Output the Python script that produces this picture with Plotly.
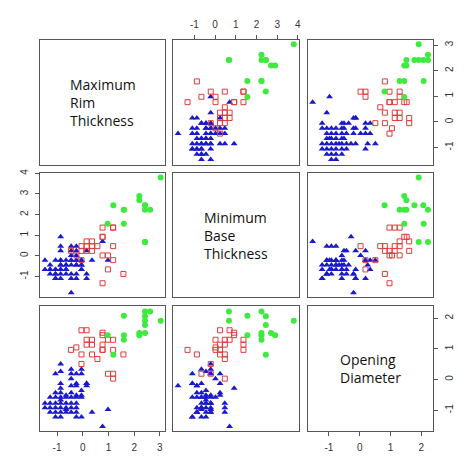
import plotly.graph_objects as go

# ---------------- data (standardised measurements) ----------------
var_names = ["Maximum<br>Rim<br>Thickness", "Minimum<br>Base<br>Thickness", "Opening<br>Diameter"]

# group 1 (blue triangles)
blue_mrt = [0.98, 0.77, 0.36, 0.15, 0.15, 0.15,
            -0.05, -0.05, -0.05, -0.05, -0.05, -0.05,
            -0.25, -0.25, -0.25, -0.25, -0.25, -0.25, -0.25, -0.25, -0.25,
            -0.45, -0.45, -0.45, -0.45, -0.45, -0.45, -0.45, -0.45, -0.45,
            -0.65, -0.65, -0.65, -0.65, -0.65, -0.65,
            -0.86, -0.86, -0.86, -0.86, -0.86, -0.86, -0.86, -0.86, -0.86, -0.86, -0.86,
            -1.06, -1.06, -1.06, -1.06, -1.06, -1.06, -1.06,
            -1.27, -1.27, -1.27, -1.27,
            -1.47, -1.47]
blue_mbt = [-0.21, 0.70, -0.21, -1.10, -0.88, 0.24,
            -0.66, -0.44, -0.21, -0.44, -0.21, -0.66,
            -1.10, -0.88, -0.44, -0.21, 0.02, 0.24, 0.47, -0.44, -0.21,
            -1.10, -0.88, -0.44, -0.21, 0.02, -1.79, 0.24, 0.47, -0.21,
            -0.88, -0.66, -0.44, -0.21, -0.66, -0.44,
            -1.10, 0.47, -0.88, -0.66, -0.44, -0.21, 0.24, 0.92, -0.66, -0.44, -0.21,
            -1.10, -0.88, -0.66, -0.21, -0.88, -0.66, -1.10,
            -0.88, -0.66, -0.44, -0.66,
            -0.66, -0.21]
blue_od = [-0.98, -1.53, -1.07, -0.13, -0.20, -0.13,
           -1.22, -0.58, -0.51, -0.36, 0.19, 0.34,
           -0.13, -0.20, -1.22, -1.07, -0.58, -0.51, -0.92, -0.77, 0.19,
           -0.58, -0.43, -1.07, -0.92, 0.03, -0.20, 0.19, -0.77, 0.34,
           -1.07, -0.98, -0.92, -0.77, -0.58, -0.51,
           -1.22, -1.07, -0.92, -0.77, -0.67, -0.58, -0.43, -0.28, -0.13, 0.26, 0.51,
           -1.22, -1.07, -0.92, -0.77, -0.58, -0.43, 0.19,
           -1.07, -0.92, -0.77, -0.58,
           -0.92, -0.77]

# group 2 (red open squares)
red_mrt = [1.58, 1.18, 1.18, 1.18, 1.18, 0.98, 0.98, 0.77, 0.77, 0.77, 0.77, 0.77,
           0.57, 0.36, 0.36, 0.36, 0.15, 0.15, 0.15, -0.05, -0.05, -0.05, -0.25, -0.46]
red_mbt = [-0.88, 0.47, -0.21, 1.37, 1.37, -0.66, 0.02, -1.33, 1.37, 0.92, 0.92, 0.02,
           0.47, 0.24, 0.47, 0.70, 0.24, 0.47, 0.70, -0.21, 0.47, 0.24, 0.02, 0.24]
red_od = [0.82, 0.03, 0.19, 0.97, 1.30, 0.19, 1.30, 0.97, 1.14, 1.45, 1.53, 0.97,
          0.67, 0.82, 1.14, 1.30, 1.14, 1.30, 1.61, 0.51, 0.82, 1.61, 1.05, 0.97]

# group 3 (green filled circles)
green_mrt = [3.03, 2.62, 2.42, 2.42, 2.42, 2.42, 2.42, 2.20, 2.20, 1.60, 1.60, 1.60, 1.19, 0.97]
green_mbt = [3.80, 2.24, 0.67, 2.45, 0.67, 2.45, 2.24, 2.70, 2.90, 2.24, 2.24, 1.56, 2.45, 1.56]
green_od = [1.92, 2.22, 2.22, 2.07, 1.92, 1.78, 1.52, 1.52, 1.45, 1.30, 1.45, 2.08, 0.81, 1.45]

tick_mrt = [-1, 0, 1, 2, 3]
tick_mbt = [-1, 0, 1, 2, 3, 4]
tick_od = [-1, 0, 1, 2]

# ---------------- layout helpers ----------------
W, H = 474, 466
col_px = [(40, 166), (174, 300), (309, 435)]
row_px = [(36, 162), (170, 296), (305, 431)]
ranges = [[-1.67, 3.21], [-2.02, 4.04], [-1.69, 2.39]]
ticks = [tick_mrt, tick_mbt, tick_od]

groups = [
    ([blue_mrt, blue_mbt, blue_od],
     dict(symbol="triangle-up", size=6, color="#1a1acc", line=dict(width=0))),
    ([red_mrt, red_mbt, red_od],
     dict(symbol="square-open", size=5, color="#e03c3c", line=dict(width=1, color="#e03c3c"))),
    ([green_mrt, green_mbt, green_od],
     dict(symbol="circle", size=6, color="#3dea3d", line=dict(width=0))),
]

fig = go.Figure()
LINE = "#555555"
TICKFONT = dict(family="Liberation Sans, Arial, sans-serif", size=10, color="#333333")

for r in range(3):
    for c in range(3):
        k = r * 3 + c + 1
        xa = "x" if k == 1 else f"x{k}"
        ya = "y" if k == 1 else f"y{k}"
        if r != c:
            for data, mk in groups:
                fig.add_trace(go.Scatter(x=data[c], y=data[r], mode="markers",
                                         marker=mk, xaxis=xa, yaxis=ya,
                                         showlegend=False, hoverinfo="skip"))
        else:
            # empty trace so the framed diagonal panel is drawn
            fig.add_trace(go.Scatter(x=[None], y=[None], mode="markers",
                                     xaxis=xa, yaxis=ya, showlegend=False,
                                     hoverinfo="skip"))
        x0, x1 = col_px[c]
        y0, y1 = row_px[r]
        xdom = [x0 / W, x1 / W]
        ydom = [1 - y1 / H, 1 - y0 / H]

        # which ticks are shown (R pairs convention)
        x_side = None
        if r == 0 and c == 1:
            x_side = "top"
        if r == 2 and c in (0, 2):
            x_side = "bottom"
        y_side = None
        if c == 0 and r == 1:
            y_side = "left"
        if c == 2 and r in (0, 2):
            y_side = "right"

        xkw = dict(domain=xdom, range=ranges[c], showgrid=False, zeroline=False,
                   showline=True, mirror=True, linecolor=LINE, linewidth=1,
                   anchor=ya, fixedrange=True)
        if x_side:
            xkw.update(side=x_side, ticks="outside", ticklen=4, tickcolor=LINE,
                       tickvals=ticks[c], ticktext=[str(t) for t in ticks[c]],
                       showticklabels=True, tickfont=TICKFONT, ticklabelstandoff=3)
        else:
            xkw.update(ticks="", showticklabels=False)
        ykw = dict(domain=ydom, range=ranges[r], showgrid=False, zeroline=False,
                   showline=True, mirror=True, linecolor=LINE, linewidth=1,
                   anchor=xa, fixedrange=True)
        if y_side:
            ykw.update(side=y_side, ticks="outside", ticklen=4, tickcolor=LINE,
                       tickvals=ticks[r], ticktext=[str(t) for t in ticks[r]],
                       showticklabels=True, tickfont=TICKFONT, tickangle=-90,
                       ticklabelstandoff=3)
        else:
            ykw.update(ticks="", showticklabels=False)

        xname = "xaxis" if k == 1 else f"xaxis{k}"
        yname = "yaxis" if k == 1 else f"yaxis{k}"
        fig.update_layout({xname: xkw, yname: ykw})

        if r == c:
            fig.add_annotation(text=var_names[r], xref="paper", yref="paper",
                               x=(x0 + x1) / 2 / W, y=1 - (y0 + y1) / 2 / H,
                               xanchor="center", yanchor="middle", align="left",
                               showarrow=False,
                               font=dict(family="Open Sans, sans-serif", size=14, color="#111111"))

fig.update_layout(width=W, height=H, margin=dict(l=0, r=0, t=0, b=0),
                  paper_bgcolor="white", plot_bgcolor="white")

fig.write_html("out.html")
